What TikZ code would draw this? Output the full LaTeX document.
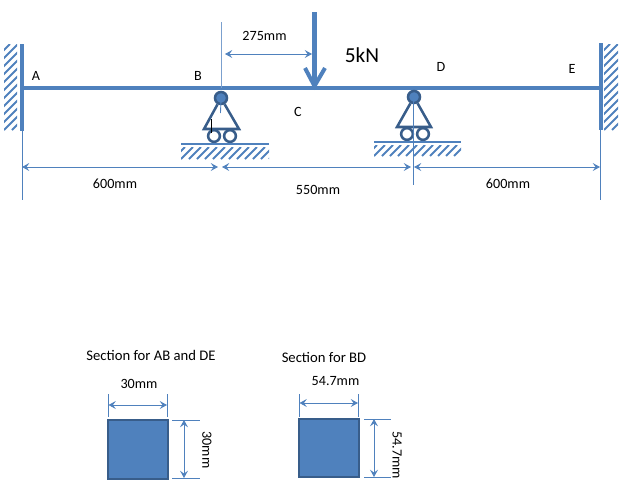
\documentclass[tikz,border=0pt]{standalone}
\usepackage{fontspec}
\setmainfont{Carlito}
\usetikzlibrary{arrows.meta}
\definecolor{bl}{HTML}{4F81BD}
\definecolor{dk}{HTML}{385D8A}
\newcommand{\hatchbox}[4]{%
  \begin{scope}
    \clip (#1,#2) rectangle (#3,#4);
    \foreach \k in {-96,-88,...,96}{
      \draw[hatchline] ({#1+\k},#4) -- ({#1+\k+(#4-#2)},#2);
    }
  \end{scope}}
\tikzset{
  x=0.75pt,y=-0.75pt,
  hatchline/.style={bl,line width=1.5pt},
  beam/.style={bl,line width=2.6pt},
  thin ext/.style={bl,line width=0.65pt},
  dim/.style={bl,line width=0.65pt,{Stealth[length=5.5pt,width=6pt,inset=2.2pt]}-{Stealth[length=5.5pt,width=6pt,inset=2.2pt]}},
  lab/.style={font=\fontsize{10.6pt}{12pt}\selectfont,text=black,inner sep=0pt},
  seclab/.style={font=\fontsize{11pt}{13pt}\selectfont,text=black,inner sep=0pt},
  big/.style={font=\fontsize{16pt}{18pt}\selectfont,text=black,inner sep=0pt},
  roller/.style={circle,draw=dk,line width=1.9pt,fill=white,minimum size=8.8pt,inner sep=0pt},
  pin/.style={circle,draw=dk,line width=1.9pt,fill=bl,minimum size=9pt,inner sep=0pt},
  frame/.style={dk,line width=1.9pt,line join=miter},
  sect/.style={draw=dk,fill=bl,line width=2.2pt,inner sep=0pt}
}
\begin{document}
\begin{tikzpicture}
\useasboundingbox (0,0) rectangle (624,490);
% named points
\coordinate (A) at (22,88);
\coordinate (E) at (600,88);
\coordinate (WLt) at (22,44);
\coordinate (WLb) at (22,131);
\coordinate (WRt) at (600.5,43);
\coordinate (WRb) at (600.5,130);
\coordinate (ELb) at (22,200);
\coordinate (ERb) at (600.5,200);
\coordinate (F1t) at (314.5,12);
\coordinate (F1b) at (314.5,86);
\coordinate (Bt) at (221.5,22);
\coordinate (Bb) at (221.5,88);
\coordinate (B2) at (220.5,113);
% hatching
\hatchbox{4}{44}{17}{130}
\hatchbox{604}{44}{618}{130}
\hatchbox{181}{147}{269}{159}
\hatchbox{374}{145}{461}{156}
% walls and beam
\draw[beam,line width=3pt] (WLt) -- (WLb);
\draw[beam,line width=3pt] (WRt) -- (WRb);
\draw[beam] (A) -- (E);
% extension lines
\draw[thin ext] (WLb) -- (ELb);
\draw[thin ext] (WRb) -- (ERb);
\draw[bl!75,line width=1pt] (Bt) -- (Bb);
% support B
\coordinate (B3) at (204,129);
\coordinate (B4) at (239,129);
\node[pin] (pB) at (221,98) {};
\draw[frame] (pB) -- (B3) -- (B4) -- (pB);
\node[roller] (rB1) at (214,136) {};
\node[roller] (rB2) at (230,136) {};
\coordinate (gB1) at (181,144);
\coordinate (gB2) at (269,144);
\draw[bl,line width=2.2pt] (gB1) -- (gB2);
\coordinate (tk1) at (211,119);
\coordinate (tk2) at (211,133);
\draw[black,line width=0.7pt] (tk1) -- (tk2);
\draw[thin ext] (pB.center) -- (B2);
% support D
\coordinate (D3) at (397,127);
\coordinate (D4) at (431,127);
\node[pin] (pD) at (414,97) {};
\draw[frame] (pD) -- (D3) -- (D4) -- (pD);
\node[roller] (rD1) at (407,134) {};
\node[roller] (rD2) at (423,134) {};
\coordinate (gD1) at (374,142);
\coordinate (gD2) at (461,142);
\draw[bl,line width=2.2pt] (gD1) -- (gD2);
\coordinate (Dt) at (413,100);
\coordinate (De) at (413,185);
\draw[thin ext] (Dt) -- (De);
% load
\draw[beam,line width=3.2pt] (F1t) -- (F1b);
\coordinate (w1) at (305,68);
\coordinate (w2) at (325,68);
\draw[beam,line width=3pt,line join=miter] (w1) -- (F1b) -- (w2);
% dimensions
\coordinate (d1) at (22,167);
\coordinate (d2) at (218,167);
\coordinate (d3) at (222,167);
\coordinate (d4) at (411,167);
\coordinate (d5) at (414,167);
\coordinate (d6) at (600,167);
\coordinate (d7) at (225,54);
\coordinate (d8) at (312,54);
\draw[dim] (d1) -- (d2);
\draw[dim] (d3) -- (d4);
\draw[dim] (d5) -- (d6);
\draw[dim] (d7) -- (d8);
% labels
\node[lab] (lA) at (36,76) {A};
\node[lab] (lB) at (198,76) {B};
\node[lab] (lC) at (298,112) {C};
\node[lab] (lD) at (441,67) {D};
\node[lab] (lE) at (572,69) {E};
\node[big] (l5) at (362,55) {5kN};
\node[lab] (l275) at (264.5,36) {275mm};
\node[lab] (l600a) at (115,184) {600mm};
\node[lab] (l550) at (318,190) {550mm};
\node[lab] (l600b) at (508,184) {600mm};
% sections
\node[seclab] (s1) at (151,355) {Section for AB and DE};
\node[seclab] (s2) at (324,357) {Section for BD};
\draw[sect] (108,420) rectangle (168,479);
\draw[sect] (299,419) rectangle (359,477);
% section 1 dims
\coordinate (a1) at (108.5,394); \coordinate (a2) at (108.5,417);
\coordinate (a3) at (167,394); \coordinate (a4) at (167,417);
\draw[thin ext] (a1) -- (a2);
\draw[thin ext] (a3) -- (a4);
\coordinate (a5) at (108.5,405); \coordinate (a6) at (167,405);
\draw[dim] (a5) -- (a6);
\coordinate (b1) at (172,420); \coordinate (b2) at (200,420);
\coordinate (b3) at (172,478); \coordinate (b4) at (200,478);
\draw[thin ext] (b1) -- (b2);
\draw[thin ext] (b3) -- (b4);
\coordinate (b5) at (184,420); \coordinate (b6) at (184,478);
\draw[dim] (b5) -- (b6);
\node[lab] (t30a) at (139,384) {30mm};
\node[lab,rotate=-90] (t30b) at (207,450) {30mm};
% section 2 dims
\coordinate (c1) at (299.5,394); \coordinate (c2) at (299.5,417);
\coordinate (c3) at (358,394); \coordinate (c4) at (358,417);
\draw[thin ext] (c1) -- (c2);
\draw[thin ext] (c3) -- (c4);
\coordinate (c5) at (299.5,403); \coordinate (c6) at (358,403);
\draw[dim] (c5) -- (c6);
\coordinate (e1) at (364,419); \coordinate (e2) at (391,419);
\coordinate (e3) at (364,477); \coordinate (e4) at (391,477);
\draw[thin ext] (e1) -- (e2);
\draw[thin ext] (e3) -- (e4);
\coordinate (e5) at (374,419); \coordinate (e6) at (374,477);
\draw[dim] (e5) -- (e6);
\node[lab] (t54a) at (335.5,381) {54.7mm};
\node[lab,rotate=-90] (t54b) at (397,455) {54.7mm};
\end{tikzpicture}
\end{document}
